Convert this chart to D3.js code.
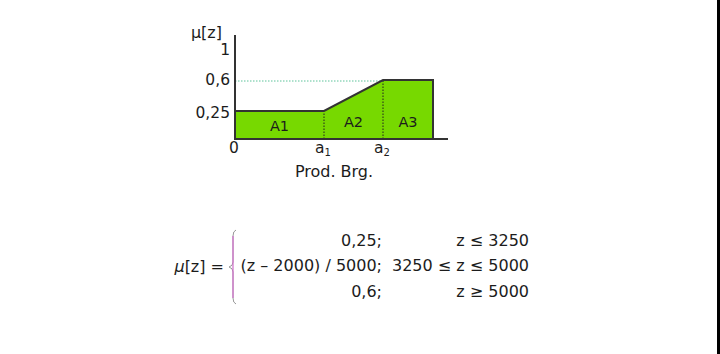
<!DOCTYPE html>
<html>
<head>
<meta charset="utf-8">
<script src="https://cdn.jsdelivr.net/npm/d3@7"></script>
<style>
  body { margin: 0; background: #fff; }
  svg { display: block; }
</style>
</head>
<body>
<div id="chart"></div>
<script>
// schematic membership function
const zBreaks = [0, 3250, 5000, 6500];
const muValues = [0.25, 0.25, 0.6, 0.6];
const yTicks = [0.25, 0.6, 1];
const yTickLabels = ["0,25", "0,6", "1"];
const xTicks = [0, 3250, 5000];
const xTickLabels = ["0", "a", "a"];
const xTickSubs = ["", "1", "2"];
const areaNames = ["A1", "A2", "A3"];

const formulaLeft = ["0,25;", "(z \u2013 2000) / 5000;", "0,6;"];
const formulaRight = ["z \u2264 3250", "3250 \u2264 z \u2264 5000", "z \u2265 5000"];

const width = 720, height = 354;

const svg = d3.select("#chart")
  .append("svg")
  .attr("width", width)
  .attr("height", height);

// piecewise scales, the drawing is not to scale
const xScale = d3.scaleLinear()
  .domain(zBreaks)
  .range([235, 324, 383, 433]);

const yScale = d3.scaleLinear()
  .domain([0, 0.25, 0.6, 1])
  .range([139, 111, 80, 50]);

const chartFont = "DejaVu Sans, Verdana, sans-serif";
const ink = "#1c1c1c";

// area under the function
const pts = zBreaks.map((z, i) => [z, muValues[i]]);
const area = d3.area()
  .x(d => xScale(d[0]))
  .y0(yScale(0))
  .y1(d => yScale(d[1]));

svg.append("path")
  .datum(pts)
  .attr("d", area)
  .attr("fill", "#77d900");

// dotted guide at 0,6
svg.append("line")
  .attr("x1", xScale(0))
  .attr("x2", xScale(5000))
  .attr("y1", yScale(0.6) + 1)
  .attr("y2", yScale(0.6) + 1)
  .attr("stroke", "#5cc39a")
  .attr("stroke-width", 1)
  .attr("stroke-dasharray", "1.5,1.5");

// dotted splits a1, a2
svg.selectAll(".split")
  .data([3250, 5000])
  .enter()
  .append("line")
    .attr("x1", d => xScale(d))
    .attr("x2", d => xScale(d))
    .attr("y1", yScale(0))
    .attr("y2", (d, i) => yScale(muValues[i + 1]) + 1)
    .attr("stroke", "#222")
    .attr("stroke-width", 1)
    .attr("stroke-dasharray", "1.5,1.5");

// outline
const outline = d3.line()
  .x(d => xScale(d[0]))
  .y(d => yScale(d[1]));

svg.append("path")
  .datum(pts.concat([[zBreaks[zBreaks.length - 1], 0]]))
  .attr("d", outline)
  .attr("fill", "none")
  .attr("stroke", "#333")
  .attr("stroke-width", 2);

// axes
svg.append("line")
  .attr("x1", xScale(0)).attr("x2", xScale(0))
  .attr("y1", yScale(0) + 1).attr("y2", 35)
  .attr("stroke", "#333").attr("stroke-width", 2);

svg.append("line")
  .attr("x1", xScale(0) - 1).attr("x2", 448)
  .attr("y1", yScale(0)).attr("y2", yScale(0))
  .attr("stroke", "#333").attr("stroke-width", 2);

// y labels
svg.selectAll(".ytick")
  .data(yTicks)
  .enter()
  .append("text")
    .attr("x", 230)
    .attr("y", d => yScale(d) + (d === 0.25 ? 2 : 0))
    .attr("dy", "0.35em")
    .attr("text-anchor", "end")
    .style("font-family", chartFont)
    .style("font-size", "15.5px")
    .style("fill", ink)
    .text((d, i) => yTickLabels[i]);

svg.append("text")
  .attr("x", 222)
  .attr("y", 32)
  .attr("dy", "0.35em")
  .attr("text-anchor", "end")
  .style("font-family", chartFont)
  .style("font-size", "16px")
  .style("fill", ink)
  .text("\u03bc[z]");

// x labels
const xt = svg.selectAll(".xtick")
  .data(xTicks)
  .enter()
  .append("text")
    .attr("x", d => xScale(d) - 1)
    .attr("y", yScale(0) + 14)
    .attr("text-anchor", "middle")
    .style("font-family", chartFont)
    .style("font-size", "15.5px")
    .style("fill", ink);

xt.append("tspan").text((d, i) => xTickLabels[i]);
xt.append("tspan")
  .attr("dy", 3)
  .style("font-size", "10px")
  .text((d, i) => xTickSubs[i]);

svg.append("text")
  .attr("x", 334)
  .attr("y", 177)
  .attr("text-anchor", "middle")
  .style("font-family", chartFont)
  .style("font-size", "16px")
  .style("fill", ink)
  .text("Prod. Brg.");

// area names
svg.selectAll(".aname")
  .data(areaNames)
  .enter()
  .append("text")
    .attr("x", (d, i) => (xScale(zBreaks[i]) + xScale(zBreaks[i + 1])) / 2)
    .attr("y", (d, i) => yScale(0.125) + (i === 0 ? 1 : -3))
    .attr("dy", "0.35em")
    .attr("text-anchor", "middle")
    .style("font-family", chartFont)
    .style("font-size", "14.5px")
    .style("fill", ink)
    .text(d => d);

// formula below
const fFont = "DejaVu Sans, Verdana, sans-serif";
const rowY = d3.scalePoint()
  .domain(d3.range(formulaLeft.length))
  .range([240, 291]);

const lhs = svg.append("text")
  .attr("x", 224)
  .attr("y", 266)
  .attr("dy", "0.35em")
  .attr("text-anchor", "end")
  .style("font-family", fFont)
  .style("font-size", "16px")
  .style("fill", ink);
lhs.append("tspan").style("font-style", "italic").text("\u03bc");
lhs.append("tspan").text("[z] =");

// brace
svg.append("path")
  .attr("d", "M236,230 Q233,231 233,236 L233,262 Q233,266 229,267 Q233,268 233,272 L233,298 Q233,303 236,304")
  .attr("fill", "none")
  .attr("stroke", "#999")
  .attr("stroke-width", 1);
svg.append("line")
  .attr("x1", 233).attr("x2", 233)
  .attr("y1", 236).attr("y2", 298)
  .attr("stroke", "#d06ccc")
  .attr("stroke-width", 1.2);

svg.selectAll(".fl")
  .data(formulaLeft)
  .enter()
  .append("text")
    .attr("x", 382)
    .attr("y", (d, i) => rowY(i))
    .attr("dy", "0.35em")
    .attr("text-anchor", "end")
    .style("font-family", fFont)
    .style("font-size", "16px")
    .style("fill", ink)
    .text(d => d);

svg.selectAll(".fr")
  .data(formulaRight)
  .enter()
  .append("text")
    .attr("x", 529)
    .attr("y", (d, i) => rowY(i))
    .attr("dy", "0.35em")
    .attr("text-anchor", "end")
    .style("font-family", fFont)
    .style("font-size", "16px")
    .style("fill", ink)
    .text(d => d);

// dark strip on the right edge
svg.append("rect")
  .attr("x", 717).attr("y", 0)
  .attr("width", 3).attr("height", height)
  .attr("fill", "#000");
</script>
</body>
</html>
